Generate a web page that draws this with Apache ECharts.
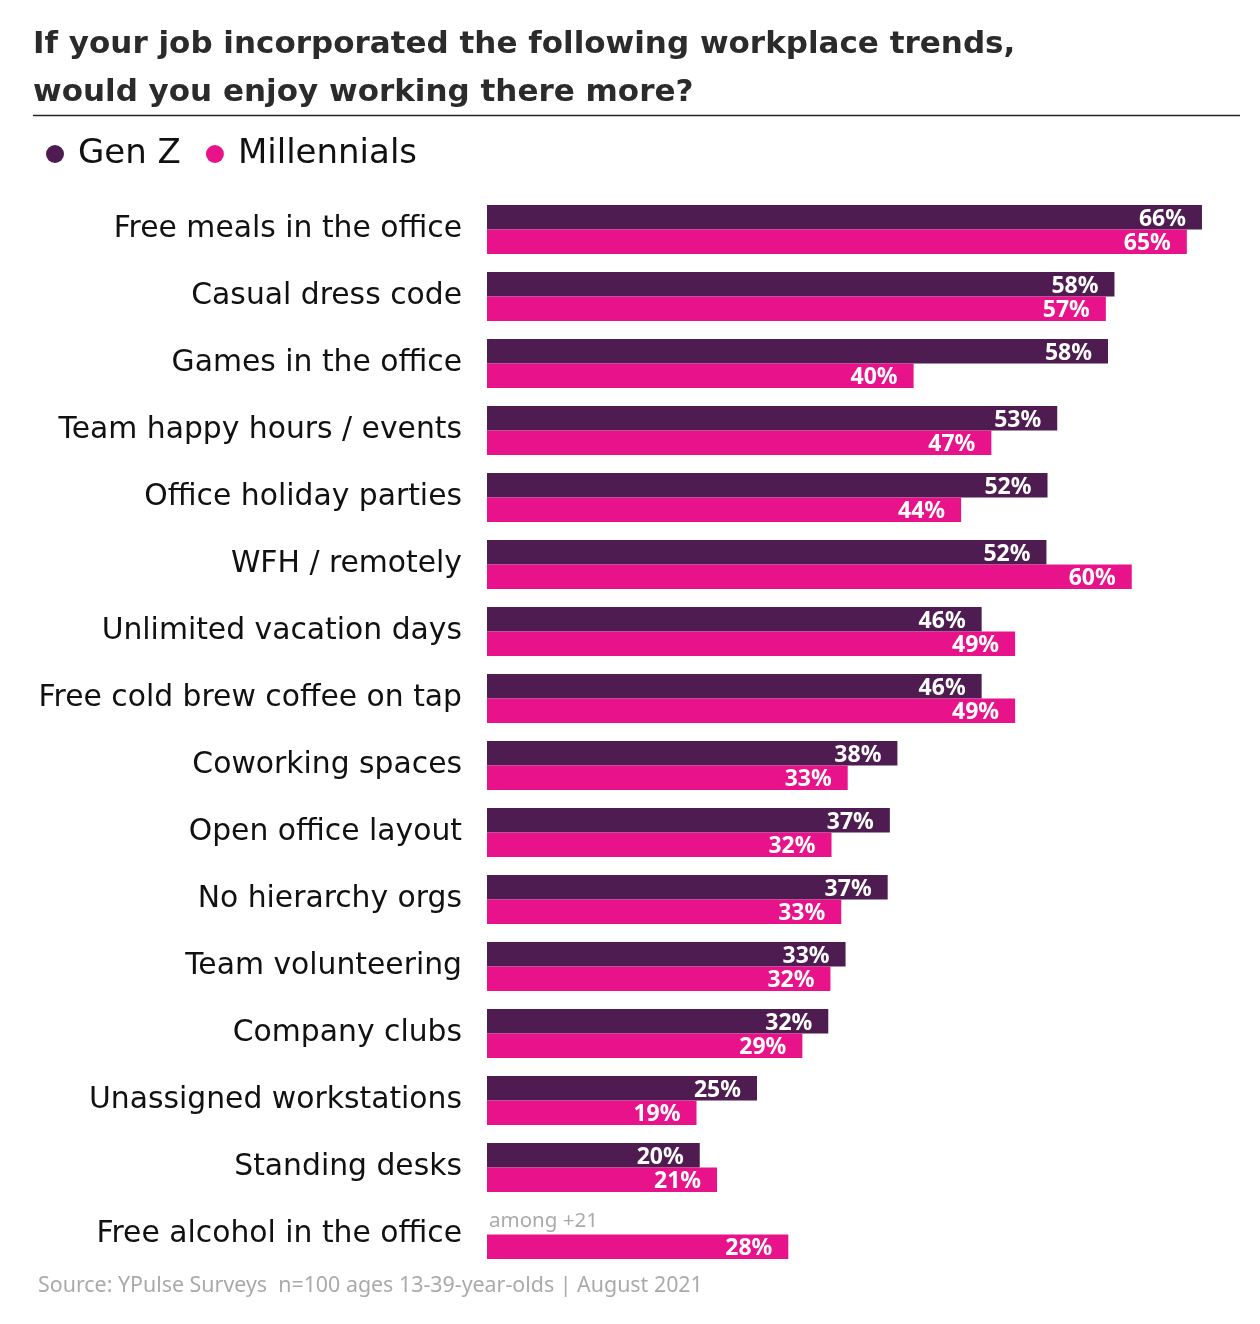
<!DOCTYPE html>
<html>
<head>
<meta charset="utf-8">
<script src="https://cdn.jsdelivr.net/npm/echarts@6/dist/echarts.min.js"></script>
<style>
  html, body { margin: 0; padding: 0; background: #fff; }
  #container { width: 1260px; height: 1324px; }
</style>
</head>
<body>
<div id="container"></div>
<script>
// data (% who would enjoy it more)
var categories = [
  'Free meals in the office', 'Casual dress code', 'Games in the office',
  'Team happy hours / events', 'Office holiday parties', 'WFH / remotely',
  'Unlimited vacation days', 'Free cold brew coffee on tap', 'Coworking spaces',
  'Open office layout', 'No hierarchy orgs', 'Team volunteering',
  'Company clubs', 'Unassigned workstations', 'Standing desks',
  'Free alcohol in the office'
];
var genZ = [66.2, 58.1, 57.5, 52.8, 51.9, 51.8, 45.8, 45.8, 38.0, 37.3, 37.1, 33.2, 31.6, 25.0, 19.7, null];
var millennials = [64.8, 57.3, 39.5, 46.7, 43.9, 59.7, 48.9, 48.9, 33.4, 31.9, 32.8, 31.8, 29.2, 19.4, 21.3, 27.9];
var seriesNames = ['Gen Z', 'Millennials'];

var font = 'DejaVu Sans';
var labelFont = 'Noto Sans';
var colors = ['#4f1c51', '#e8138b'];

var dom = document.getElementById('container');
var myChart = echarts.init(dom);

function barLabel() {
  return {
    show: true,
    position: 'insideRight',
    distance: 16,
    offset: [0, 2],
    color: '#fff',
    fontFamily: labelFont,
    fontWeight: 'bold',
    fontSize: 23,
    formatter: function (p) { return Math.round(p.value) + '%'; }
  };
}

var option = {
  backgroundColor: '#fff',
  animation: false,
  color: colors,
  title: {
    text: 'If your job incorporated the following workplace trends,\nwould you enjoy working there more?',
    left: 28,
    top: 16,
    textStyle: {
      fontFamily: font,
      fontWeight: 'bold',
      fontSize: 31,
      lineHeight: 48,
      color: '#2b2b2b'
    }
  },
  legend: {
    left: 41,
    top: 132,
    icon: 'circle',
    itemWidth: 18,
    itemHeight: 18,
    itemGap: 25,
    data: seriesNames,
    textStyle: { fontFamily: font, fontSize: 34, color: '#111', padding: [0, 0, 0, 9] }
  },
  grid: { left: 487, right: 17, top: 196, bottom: 56, containLabel: false },
  xAxis: {
    type: 'value',
    min: 0,
    max: 70,
    show: false
  },
  yAxis: {
    type: 'category',
    inverse: true,
    data: categories,
    axisLine: { show: false },
    axisTick: { show: false },
    axisLabel: {
      margin: 25,
      fontFamily: font,
      fontSize: 29.8,
      color: '#111'
    }
  },
  series: [
    {
      name: seriesNames[0],
      type: 'bar',
      data: genZ,
      barGap: '0%',
      barCategoryGap: '27%',
      label: barLabel()
    },
    {
      name: seriesNames[1],
      type: 'bar',
      data: millennials,
      label: barLabel()
    }
  ],
  graphic: [
    {
      id: 'rule',
      type: 'line',
      shape: { x1: 33, y1: 115.5, x2: 1240, y2: 115.5 },
      style: { stroke: '#222', lineWidth: 1.5 }
    },
    {
      id: 'source',
      type: 'text',
      left: 38,
      top: 1275,
      style: {
        text: 'Source: YPulse Surveys  n=100 ages 13-39-year-olds | August 2021',
        fontFamily: labelFont,
        fontSize: 21.4,
        fill: '#aaaaaa'
      }
    }
  ]
};

myChart.setOption(option);

// note in the empty Gen Z slot of the last category
var lastIdx = categories.length - 1;
var pos = myChart.convertToPixel({ gridIndex: 0 }, [0, categories[lastIdx]]);
myChart.setOption({
  graphic: [
    {
      id: 'note',
      type: 'text',
      x: pos[0] + 2,
      y: pos[1] - 13,
      style: {
        text: 'among +21',
        fontFamily: labelFont,
        fontSize: 20.5,
        fill: '#aaaaaa',
        textVerticalAlign: 'middle'
      }
    }
  ]
});
</script>
</body>
</html>
